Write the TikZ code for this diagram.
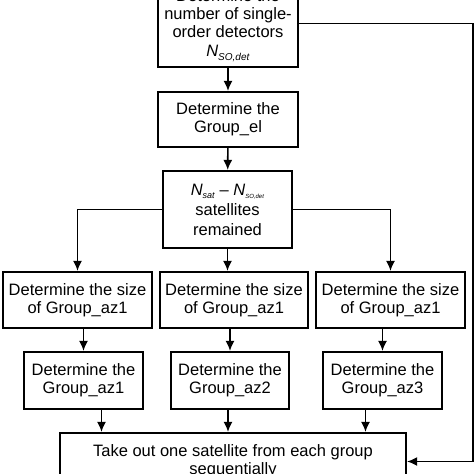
\documentclass[tikz,border=0pt]{standalone}
\usepackage{fontspec}
\setmainfont{Liberation Sans}
\usetikzlibrary{arrows.meta}
\newcommand{\Nsub}[2]{\textit{N}\raisebox{-0.4ex}{\fontsize{#2}{#2}\selectfont\textit{#1}}}

\begin{document}
\begin{tikzpicture}[x=1pt,y=-1pt,
  box/.style={draw,line width=2.1pt,inner sep=0pt,align=center,
    font=\fontsize{16.5}{18}\selectfont},
  arr/.style={line width=1.6pt,-{Latex[length=10pt,width=9pt]}}]
\useasboundingbox (0,0) rectangle (474,474);
\clip (0,0) rectangle (474,474);
\draw (228,25.5) node[box,minimum width=140,minimum height=83](det)
  {Determine the\\number of single-\\order detectors\\[1pt]\Nsub{SO,det}{10}};
\draw (228,119.5) node[box,minimum width=140,minimum height=55](groupel)
  {Determine the\\Group\_el};
\draw (227.5,209.5) node[box,minimum width=129,minimum height=77](remain)
  {\Nsub{sat}{9} -- \Nsub{SO,det}{6}\\[2pt]satellites\\[2pt]remained};
\draw (77.5,300) node[box,minimum width=149,minimum height=56](size1)
  {Determine the size\\of Group\_az1};
\draw (234,300) node[box,minimum width=148,minimum height=56](size2)
  {Determine the size\\of Group\_az1};
\draw (390.5,300) node[box,minimum width=149,minimum height=56](size3)
  {Determine the size\\of Group\_az1};
\draw (83.5,380.5) node[box,minimum width=119,minimum height=57](az1)
  {Determine the\\Group\_az1};
\draw (230,380.5) node[box,minimum width=118,minimum height=57](az2)
  {Determine the\\Group\_az2};
\draw (382.5,380.5) node[box,minimum width=119,minimum height=57](az3)
  {Determine the\\Group\_az3};
\draw (233,461.5) node[box,minimum width=346,minimum height=57](take)
  {Take out one satellite from each group\\sequentially};
\draw[arr] (det) -- (groupel);
\draw[arr] (groupel) -- (remain);
\draw[arr] (remain.south) -- (remain.south |- size2.north);
\draw[arr] (remain.west) -| (size1.north);
\draw[arr] (remain.east) -| (size3.north);
\draw[arr] (az1.north |- size1.south) -- (az1.north);
\draw[arr] (az2.north |- size2.south) -- (az2.north);
\draw[arr] (az3.north |- size3.south) -- (az3.north);
\draw[arr] ([xshift=18]az1.south) -- ([xshift=18]az1.south |- take.north);
\draw[arr] ([xshift=-2]az2.south) -- ([xshift=-2]az2.south |- take.north);
\draw[arr] ([xshift=-17]az3.south) -- ([xshift=-17]az3.south |- take.north);
\draw[arr] ([yshift=2]det.east) -- ++(174,0) |- (take.east);
\end{tikzpicture}
\end{document}
